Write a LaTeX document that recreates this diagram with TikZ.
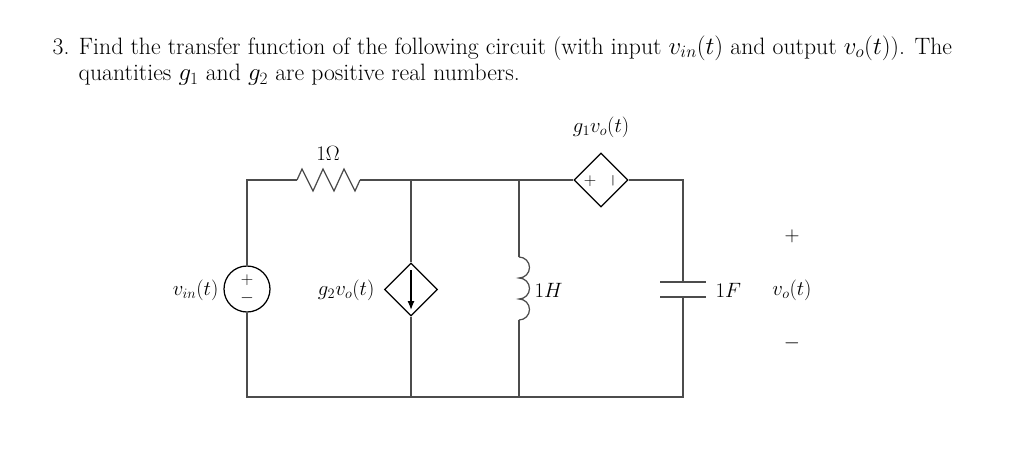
\documentclass[tikz,border=0pt]{standalone}
\usetikzlibrary{arrows.meta,shapes.geometric}
\begin{document}
\begin{tikzpicture}[x=1pt,y=-1pt,line width=1.25pt,
  w/.style={draw=black!70},
  lbl/.style={font=\fontsize{22.5}{27}\selectfont,inner sep=0pt}]
\useasboundingbox (0,0) rectangle (1024,458);
% text
\node[anchor=west,inner sep=0pt,font=\fontsize{23.7}{28}\selectfont] (t1) at (52,48) {3. Find the transfer function of the following circuit (with input $v_{in}(t)$ and output $v_o(t)$). The};
\node[anchor=west,inner sep=0pt,font=\fontsize{23.7}{28}\selectfont] (t2) at (78,75) {quantities $g_1$ and $g_2$ are positive real numbers.};
% coordinates
\coordinate (tl) at (247,180); \coordinate (bl) at (247,397);
\coordinate (r1) at (297,180); \coordinate (r2) at (360,180);
\coordinate (n1) at (411,180); \coordinate (n1b) at (411,397);
\coordinate (n2) at (519,180); \coordinate (n2b) at (519,397);
\coordinate (tr) at (683,180); \coordinate (br) at (683,397);
% voltage source
\node[draw,circle,minimum size=46pt,inner sep=0pt] (vs) at (247,289) {};
\node[lbl,font=\fontsize{18}{20}\selectfont] (vsp) at (247,280) {$+$};
\node[lbl,font=\fontsize{18}{20}\selectfont] (vsm) at (247,298) {$-$};
\node[lbl,anchor=east] (vin) at (219,290) {$v_{in}(t)$};
% dependent current source
\node[draw,diamond,minimum size=53pt,inner sep=0pt,shape aspect=1] (cs) at (411,289.5) {};
\node[lbl,anchor=east] (g2) at (375,290) {$g_2v_o(t)$};
% dependent voltage source
\node[draw,diamond,minimum size=54pt,inner sep=0pt,shape aspect=1] (ds) at (601,180) {};
\node[lbl,font=\fontsize{18}{20}\selectfont] (dsp) at (590,181) {$+$};
\node[lbl,font=\fontsize{18}{20}\selectfont] (dsm) at (613,181) {\rotatebox{90}{$-$}};
\node[lbl] (g1) at (601,127) {$g_1v_o(t)$};
% wires
\draw[w] (vs.north) -- (tl) -- (r1);
\draw[w] (r1) -- (302,169) -- (313,191) -- (323,169) -- (334,191) -- (344,169) -- (355,191) -- (r2);
\draw[w] (r2) -- (n1) -- (n2) -- (ds.west);
\draw[w] (ds.east) -- (tr) -- (683,283);
\draw[w] (683,297) -- (br) -- (n2b) -- (n1b) -- (bl) -- (vs.south);
\draw[w] (n1) -- (cs.north); \draw[w] (cs.south) -- (n1b);
\draw[-{Latex[length=9pt,width=7pt]}] (411,270) -- (411,310);
\node[lbl] (r1l) at (328,153) {$1\Omega$};
% inductor
\draw[w] (n2) -- (519,257);
\draw[w] (519,257) arc (-90:90:10.5) arc (-90:90:10.5) arc (-90:90:10.5);
\draw[w] (519,320) -- (n2b);
\node[lbl,anchor=west] (lh) at (534,290) {$1H$};
% capacitor
\draw[w,line width=2pt] (660,282) -- (706,282);
\draw[w,line width=2pt] (660,297) -- (706,297);
\node[lbl,anchor=west] (cf) at (715,290) {$1F$};
\node[lbl] (vop) at (792,236) {$+$};
\node[lbl] (vo) at (792,290) {$v_o(t)$};
\node[lbl] (vom) at (792,343) {$-$};
\end{tikzpicture}
\end{document}
